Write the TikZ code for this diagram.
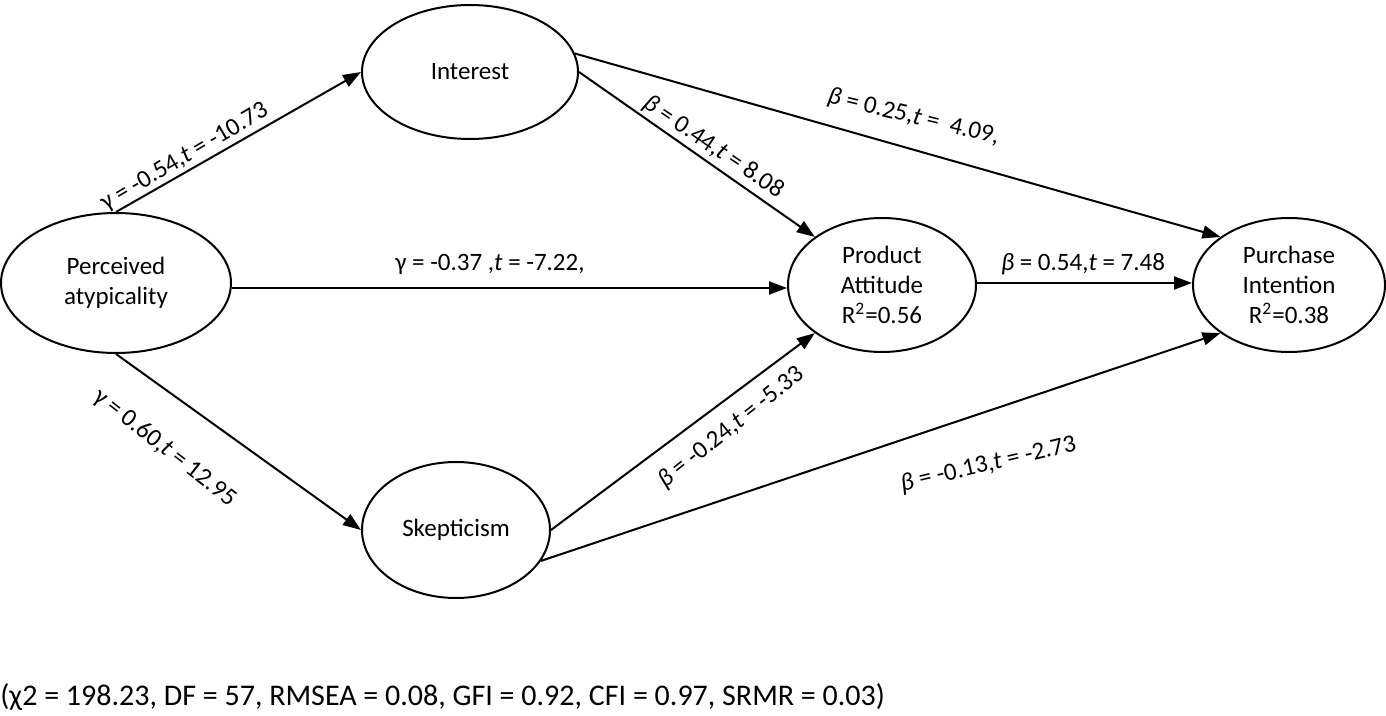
\documentclass[tikz,border=0pt]{standalone}
\usepackage{fontspec}
\setmainfont{Carlito}
\usetikzlibrary{shapes.geometric,arrows.meta}
\begin{document}
\begin{tikzpicture}[x=0.5pt,y=-0.5pt,
  lat/.style={draw,line width=1pt,ellipse,inner sep=0pt,align=center,font=\fontsize{12.5}{15}\selectfont},
  arr/.style={line width=1pt,-{Triangle[length=9pt,width=6.5pt]}},
  lab/.style={font=\fontsize{12.5}{14}\selectfont,inner sep=2pt}]
\useasboundingbox (0,0) rectangle (1386,716);
\node[lat,minimum width=115pt,minimum height=70pt] (pa) at (116,283) {Perceived\\atypicality};
\node[lat,minimum width=108pt,minimum height=67pt] (int) at (470,72) {Interest};
\node[lat,minimum width=94pt,minimum height=68pt] (sk) at (456,530) {Skepticism};
\node[lat,minimum width=94pt,minimum height=67pt] (pat) at (882,285) {Product\\Attitude\\R\textsuperscript{2}=0.56};
\node[lat,minimum width=96pt,minimum height=67pt] (pi) at (1289,285) {Purchase\\Intention\\R\textsuperscript{2}=0.38};
\draw[arr] (pa.north) -- (int.west);
\draw[arr] (pa.east |- 0,288) -- (pat.west |- 0,288);
\draw[arr] (pa.south) -- (sk.west);
\draw[arr] (int.east) -- (pat.north west);
\draw[arr] (int.10) -- (pi.north west);
\draw[arr] (sk.east) -- (pat.south west);
\draw[arr] (sk.-20) -- (pi.south west);
\draw[arr] (pat.east |- 0,283) -- (pi.west |- 0,283);
\node[lab,rotate=30.5,anchor=south] (l1) at (192,170) {γ = -0.54,\textit{t} = -10.73};
\node[lab] (l2) at (490,264) {γ = -0.37 ,\textit{t} = -7.22,};
\node[lab,rotate=-38] (l3) at (165,448) {γ = 0.60,\textit{t} = 12.95};
\node[lab,rotate=-34,anchor=south] (l4) at (705,160) {\textit{β} = 0.44,\textit{t} = 8.08};
\node[lab,rotate=-13.5,anchor=south] (l5) at (910,132) {\textit{β} = 0.25,\textit{t} =~ 4.09,};
\node[lab] (l6) at (1083,264) {\textit{β} = 0.54,\textit{t} = 7.48};
\node[lab,rotate=38.5,anchor=north] (l7) at (722,416) {\textit{β} = -0.24,\textit{t} = -5.33};
\node[lab,rotate=13,anchor=north] (l8) at (985,450) {\textit{β} = -0.13,\textit{t} = -2.73};
\node[anchor=west,inner sep=0pt,font=\fontsize{15}{17}\selectfont] (fit) at (0,697) {(χ2 = 198.23, DF = 57, RMSEA = 0.08, GFI = 0.92, CFI = 0.97, SRMR = 0.03)};
\end{tikzpicture}
\end{document}
